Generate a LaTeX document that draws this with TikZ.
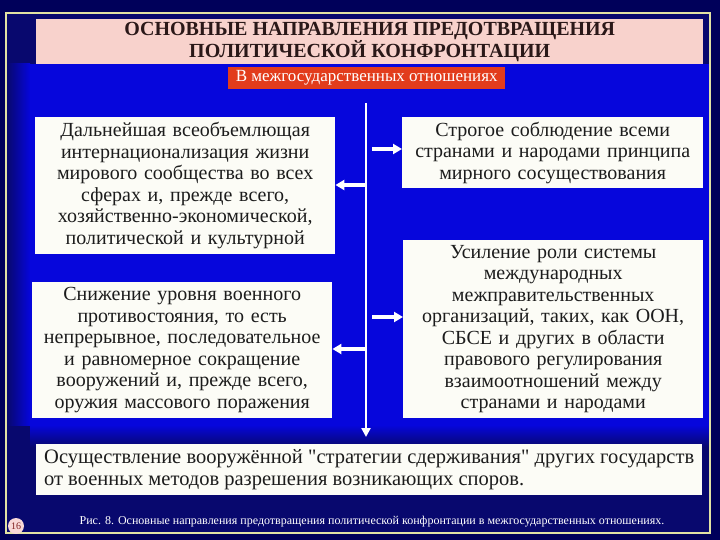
\documentclass[tikz,border=0pt]{standalone}
\usepackage{fontspec}
\setmainfont{Liberation Serif}[Ligatures=TeXOff]
\usetikzlibrary{arrows.meta}
\definecolor{bgnavy}{HTML}{00005A}
\definecolor{panelnavy}{HTML}{08086E}
\definecolor{brightblue}{HTML}{0606DC}
\definecolor{rim}{HTML}{E2E2A4}
\definecolor{titlepink}{HTML}{F8D2CC}
\definecolor{titleink}{HTML}{2A1818}
\definecolor{labelred}{HTML}{E23C1C}
\definecolor{boxwhite}{HTML}{FCFCF6}
\definecolor{boxink}{HTML}{1C1C1C}
\definecolor{numpink}{HTML}{F8D8D8}
\definecolor{numink}{HTML}{802020}

\begin{document}
\begin{tikzpicture}[x=1pt, y=-1pt,
    box/.style={fill=boxwhite, inner sep=0pt, anchor=north west,
      align=center, text=boxink, font=\fontsize{20}{21.5}\selectfont},
    titlebox/.style={fill=titlepink, inner sep=0pt, anchor=north west,
      align=center, text=titleink, font=\fontsize{20}{19}\selectfont\bfseries},
    labelbox/.style={fill=labelred, inner sep=0pt, anchor=north west,
      text=white, font=\fontsize{17}{18}\selectfont},
    arr/.style={draw=white, line width=4pt,
      -{Triangle[length=9pt, width=10pt]}},
    trunk/.style={draw=white, line width=2.5pt,
      -{Triangle[length=9pt, width=9pt]}}]
    \useasboundingbox (0,0) rectangle (720,540);
    % background and panel
    \fill[bgnavy] (0,0) rectangle (720,540);
    \fill[panelnavy] (6,13) rectangle (710,533);
    \fill[brightblue] (30,64) rectangle (709,425);
    \shade[left color=panelnavy, right color=brightblue] (7,64) rectangle (30,425);
    \shade[top color=brightblue, bottom color=panelnavy] (30,425) rectangle (709,447);
    \draw[rim, line width=1.5pt] (6,13) rectangle (710,533);
    \shade[left color=brightblue, middle color=labelred, right color=brightblue]
      (88,88) rectangle (592,90.5);

    % boxes
    \node[titlebox, minimum width=667, minimum height=45] (title) at (36,19)
      {ОСНОВНЫЕ НАПРАВЛЕНИЯ ПРЕДОТВРАЩЕНИЯ\\ПОЛИТИЧЕСКОЙ КОНФРОНТАЦИИ};
    \node[labelbox, minimum width=277, minimum height=22] (level) at (228,67)
      {В межгосударственных отношениях};
    \node[box, minimum width=300, minimum height=137, text width=296] (b1) at (35,117)
      {Дальнейшая всеобъемлющая\\интернационализация жизни\\мирового сообщества во всех\\сферах и, прежде всего,\\хозяйственно-экономической,\\политической и культурной};
    \node[box, minimum width=300, minimum height=136, text width=296] (b2) at (32,282)
      {Снижение уровня военного\\противостояния, то есть\\непрерывное, последовательное\\и равномерное сокращение\\вооружений и, прежде всего,\\оружия массового поражения};
    \node[box, minimum width=301, minimum height=71, text width=297] (b3) at (402,117)
      {Строгое соблюдение всеми\\странами и народами принципа\\мирного сосуществования};
    \node[box, minimum width=300, minimum height=178, text width=296] (b4) at (403,240)
      {Усиление роли системы\\международных\\межправительственных\\организаций, таких, как ООН,\\СБСЕ и других в области\\правового регулирования\\взаимоотношений между\\странами и народами};
    \node[box, minimum width=666, minimum height=51, text width=650, inner xsep=8pt,
      align=justify, font=\fontsize{20.5}{22}\selectfont] (b5) at (36,444)
      {Осуществление вооружённой "стратегии сдерживания" других государств\linebreak от военных методов разрешения возникающих споров.};

    % trunk and arrows
    \coordinate (top) at (366,103);
    \coordinate (bot) at (366,437);
    \coordinate (r1) at (372,149);
    \coordinate (l1) at (366,185);
    \coordinate (r2) at (372,317);
    \coordinate (l2) at (366,349);
    \draw[trunk] (top) -- (bot);
    \draw[arr] (r1) -- (r1 -| b3.west);
    \draw[arr] (l1) -- (l1 -| b1.east);
    \draw[arr] (r2) -- (r2 -| b4.west);
    \draw[arr] (l2) -- (l2 -| b2.east);

    % footer
    \node[circle, fill=numpink, inner sep=0pt, minimum size=16pt, text=numink,
      font=\fontsize{10}{10}\selectfont] (num) at (16,526) {16};
    \node[text=white, font=\fontsize{12}{13}\selectfont] (caption) at (372,522)
      {Рис. 8. Основные направления предотвращения политической конфронтации в межгосударственных отношениях.};
\end{tikzpicture}
\end{document}
